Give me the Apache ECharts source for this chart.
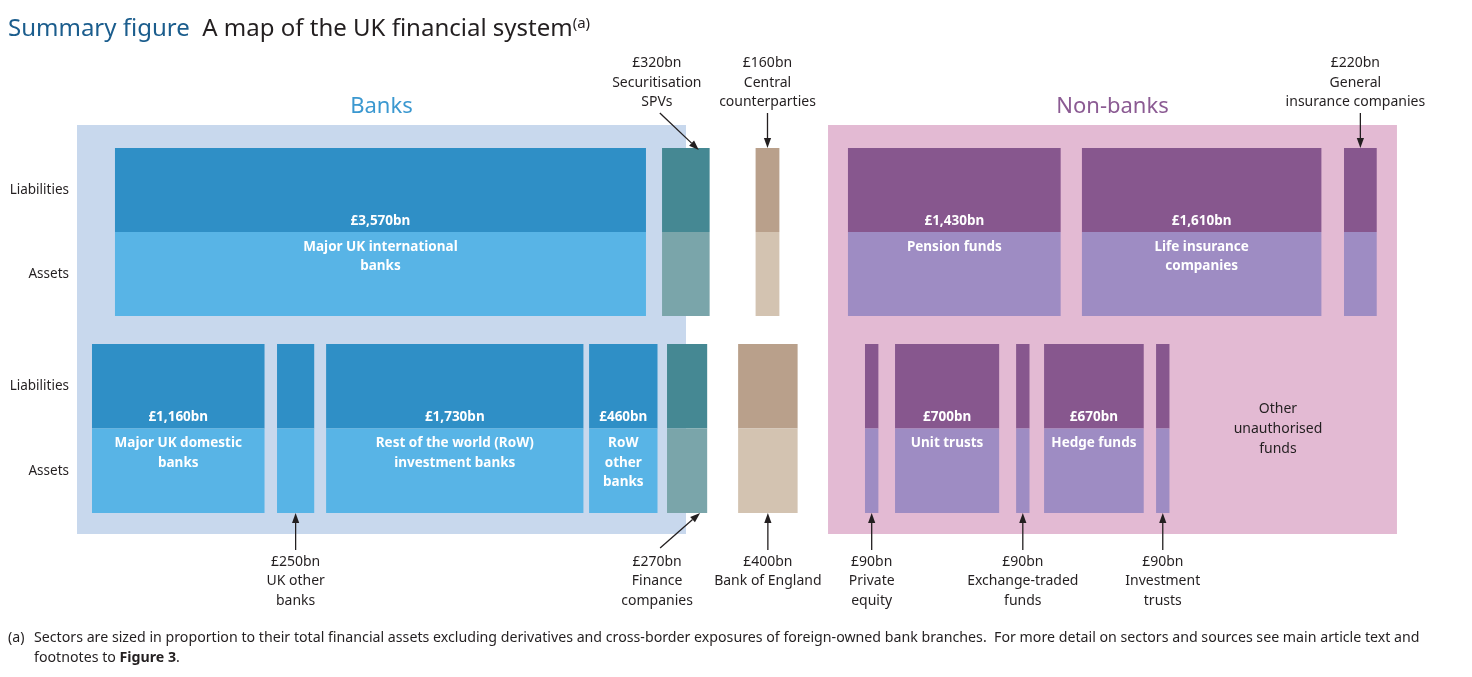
<!DOCTYPE html>
<html><head><meta charset="utf-8">
<script src="https://cdn.jsdelivr.net/npm/echarts@6/dist/echarts.min.js"></script>
<style>html,body{margin:0;padding:0;background:#fff}#c{width:1472px;height:677px}</style>
</head><body><div id="c"></div>
<script>
// ---------------- DATA ----------------
const topRowSectors = ['Major UK international banks','Securitisation SPVs','Central counterparties','Pension funds','Life insurance companies','General insurance companies'];
const topRowValues = [3570, 320, 160, 1430, 1610, 220];
const topRowLabels = [['Major UK international','banks'],['Securitisation','SPVs'],['Central','counterparties'],['Pension funds'],['Life insurance','companies'],['General','insurance companies']];
const topRowGroups = ['bank','shadow','central','nonbank','nonbank','nonbank'];

const bottomRowSectors = ['Major UK domestic banks','UK other banks','Rest of the world (RoW) investment banks','RoW other banks','Finance companies','Bank of England','Private equity','Unit trusts','Exchange-traded funds','Hedge funds','Investment trusts'];
const bottomRowValues = [1160, 250, 1730, 460, 270, 400, 90, 700, 90, 670, 90];
const bottomRowLabels = [['Major UK domestic','banks'],['UK other','banks'],['Rest of the world (RoW)','investment banks'],['RoW','other','banks'],['Finance','companies'],['Bank of England'],['Private','equity'],['Unit trusts'],['Exchange-traded','funds'],['Hedge funds'],['Investment','trusts']];
const bottomRowGroups = ['bank','bank','bank','bank','shadow','central','nonbank','nonbank','nonbank','nonbank','nonbank'];

const rowTickLabels = ['Liabilities','Assets'];
const regionLabels = ['Banks','Non-banks'];
const residualLabel = ['Other','unauthorised','funds'];

// ---------------- LAYOUT (not data) ----------------
const PX_PER_BN = 531 / 3570;
const X_MAX = 1472 / PX_PER_BN;
const topGaps = [773, 108, 309, 461, 143, 152];
const bottomGaps = [618.5, 84, 80, 38, 64, 208, 453, 112, 114, 98, 83];
const topPlacement = ['in','out','out','in','in','out'];
const bottomPlacement = ['in','out','in','in','out','out','out','in','out','in','out'];
const topShift = [0,-29,0,0,0,-5];
const bottomShift = [0,0,0,0,-30,0,0,0,0,0,0];
const rowY = [[148, 316], [344, 513]];
const regionBoxes = [[517.7, 4612, 125, 534], [5567, 9392, 125, 534]];

const palette = {
  bank: ['#2f8fc6', '#58b4e6'],
  shadow: ['#458893', '#7aa5aa'],
  central: ['#b9a08b', '#d3c3b1'],
  nonbank: ['#87578e', '#9e8cc3']
};
const regionFill = ['#c8d8ed', '#e3bad3'];
const regionLabelColor = ['#3b98d0', '#8b5b93'];
const INK = '#231f20';
const FONT = 'Noto Sans';

function fmt(v) { return '£' + v.toLocaleString('en-GB') + 'bn'; }

function buildRow(values, gaps, row) {
  let x = 0;
  return values.map((v, i) => { x += gaps[i]; const d = [x, x + v, row, i]; x += v; return d; });
}
const blockData = buildRow(topRowValues, topGaps, 0).concat(buildRow(bottomRowValues, bottomGaps, 1));
const rows = [
  {values: topRowValues, labels: topRowLabels, groups: topRowGroups, place: topPlacement, shift: topShift},
  {values: bottomRowValues, labels: bottomRowLabels, groups: bottomRowGroups, place: bottomPlacement, shift: bottomShift}
];

function arrowShapes(x1, y1, x2, y2) {
  const a = Math.atan2(y2 - y1, x2 - x1), L = 10, W = 3.6;
  const c = Math.cos(a), s = Math.sin(a);
  const bx = x2 - L * c, by = y2 - L * s;
  return [
    {type: 'line', shape: {x1: x1, y1: y1, x2: bx, y2: by}, style: {stroke: INK, lineWidth: 1.3}},
    {type: 'polygon', shape: {points: [[x2, y2], [bx - W * s, by + W * c], [bx + W * s, by - W * c]]}, style: {fill: INK}}
  ];
}

function renderBlock(params, api) {
  const x0 = api.value(0), x1 = api.value(1), r = api.value(2), i = api.value(3);
  const R = rows[r];
  const [ya, yb] = rowY[r];
  const ym = (ya + yb) / 2;
  const pA = api.coord([x0, ya]), pB = api.coord([x1, yb]), pM = api.coord([x0, ym]);
  const w = pB[0] - pA[0];
  const cx = (pA[0] + pB[0]) / 2;
  const cols = palette[R.groups[i]];
  const children = [
    {type: 'rect', shape: {x: pA[0], y: pA[1], width: w, height: pM[1] - pA[1]}, style: {fill: cols[0]}},
    {type: 'rect', shape: {x: pA[0], y: pM[1], width: w, height: pB[1] - pM[1]}, style: {fill: cols[1]}}
  ];
  const value = R.values[i];
  if (R.place[i] === 'in') {
    children.push({type: 'text', style: {text: fmt(value), x: cx, y: pM[1] - 4, align: 'center', verticalAlign: 'bottom',
      fill: '#fff', fontFamily: FONT, fontWeight: 'bold', fontSize: 13.5}});
    children.push({type: 'text', style: {text: R.labels[i].join('\n'), x: cx, y: pM[1] + 5, align: 'center', verticalAlign: 'top',
      lineHeight: 19.5, fill: '#fff', fontFamily: FONT, fontWeight: 'bold', fontSize: 13.5}});
  } else {
    const tx = cx + R.shift[i];
    const lines = [fmt(value)].concat(R.labels[i]).join('\n');
    const diag = R.shift[i] < -10;
    if (r === 0) {
      children.push({type: 'text', style: {text: lines, x: tx, y: pA[1] - 36, align: 'center', verticalAlign: 'bottom',
        lineHeight: 19.5, fill: INK, fontFamily: FONT, fontSize: 14}});
      if (diag) children.push.apply(children, arrowShapes(tx + 3, pA[1] - 35, cx + 13, pA[1] + 2));
      else children.push.apply(children, arrowShapes(cx, pA[1] - 35, cx, pA[1]));
    } else {
      children.push({type: 'text', style: {text: lines, x: tx, y: pB[1] + 39, align: 'center', verticalAlign: 'top',
        lineHeight: 19.5, fill: INK, fontFamily: FONT, fontSize: 14}});
      if (diag) children.push.apply(children, arrowShapes(tx + 3, pB[1] + 35, cx + 13, pB[1]));
      else children.push.apply(children, arrowShapes(cx, pB[1] + 37, cx, pB[1]));
    }
  }
  return {type: 'group', children: children};
}

function renderRegion(params, api) {
  const i = params.dataIndex;
  const p0 = api.coord([api.value(0), api.value(2)]), p1 = api.coord([api.value(1), api.value(3)]);
  const kids = [
    {type: 'rect', shape: {x: p0[0], y: p0[1], width: p1[0] - p0[0], height: p1[1] - p0[1]}, style: {fill: regionFill[i]}},
    {type: 'text', style: {text: regionLabels[i], x: (p0[0] + p1[0]) / 2, y: p0[1] - 18, align: 'center', verticalAlign: 'middle',
      fill: regionLabelColor[i], fontFamily: FONT, fontSize: 22}}
  ];
  if (i === 1) {
    // residual (unboxed) sector label in the non-bank area
    kids.push({type: 'text', style: {text: residualLabel.join('\n'), x: p1[0] - 119, y: (p0[1] + p1[1]) / 2 + 100, align: 'center', verticalAlign: 'middle',
      lineHeight: 20, fill: INK, fontFamily: FONT, fontSize: 14}});
  }
  return {type: 'group', children: kids};
}

function renderRowLabels(params, api) {
  const r = params.dataIndex;
  const [ya, yb] = rowY[r];
  const ym = (ya + yb) / 2;
  const pL = api.coord([0, (ya + ym) / 2]), pA = api.coord([0, (ym + yb) / 2]);
  return {type: 'group', children: [
    {type: 'text', style: {text: rowTickLabels[0], x: 69, y: pL[1], align: 'right', verticalAlign: 'middle', fill: INK, fontFamily: FONT, fontSize: 13.5}},
    {type: 'text', style: {text: rowTickLabels[1], x: 69, y: pA[1], align: 'right', verticalAlign: 'middle', fill: INK, fontFamily: FONT, fontSize: 13.5}}
  ]};
}

const chart = echarts.init(document.getElementById('c'), null, {renderer: 'canvas'});
chart.setOption({
  animation: false,
  grid: {left: 0, right: 0, top: 0, bottom: 0},
  xAxis: {type: 'value', min: 0, max: X_MAX, show: false},
  yAxis: {type: 'value', min: 0, max: 677, inverse: true, show: false},
  graphic: [
    {type: 'text', left: 8, top: 16, z: 100, style: {
      text: '{a|Summary figure}{b|  A map of the UK financial system}{c|(a)}',
      rich: {
        a: {fill: '#1b5d8d', fontSize: 24, fontFamily: FONT},
        b: {fill: INK, fontSize: 24, fontFamily: FONT},
        c: {fill: INK, fontSize: 15, fontFamily: FONT, verticalAlign: 'top', padding: [0, 0, 12, 0]}
      }}},
    {type: 'text', left: 8, top: 631, z: 100, style: {text: '(a)', fill: INK, fontFamily: FONT, fontSize: 14.2}},
    {type: 'text', left: 34, top: 631, z: 100, style: {
      text: '{n|Sectors are sized in proportion to their total financial assets excluding derivatives and cross-border exposures of foreign-owned bank branches.  For more detail on sectors and sources see main article text and}\n{n|footnotes to }{b|Figure 3}{n|.}',
      rich: {n: {fill: INK, fontFamily: FONT, fontSize: 14.2, lineHeight: 20}, b: {fill: INK, fontFamily: FONT, fontSize: 14.2, fontWeight: 'bold', lineHeight: 20}}
    }}
  ],
  series: [
    {type: 'custom', renderItem: renderRegion, data: regionBoxes, silent: true, z: 1},
    {type: 'custom', renderItem: renderRowLabels, data: [[0], [1]], silent: true, z: 2},
    {type: 'custom', renderItem: renderBlock, data: blockData, silent: true, z: 3}
  ]
});
</script>
</body></html>
